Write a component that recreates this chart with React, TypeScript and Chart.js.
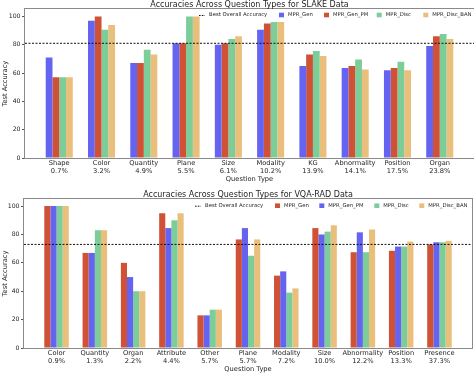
import React, { useEffect, useRef } from "react";
import { Chart, registerables } from "chart.js";
Chart.register(...registerables);

const SERIES = ["MPR_Gen", "MPR_Gen_PM", "MPR_Disc", "MPR_Disc_BAN"];

const slakeCategories = ["Shape", "Color", "Quantity", "Plane", "Size", "Modality", "KG", "Abnormality", "Position", "Organ"];
const slakeShares = ["0.7%", "3.2%", "4.9%", "5.5%", "6.1%", "10.2%", "13.9%", "14.1%", "17.5%", "23.8%"];
const slakeGen = [71, 97, 67, 81, 80, 90.5, 65, 63.5, 62, 79];
const slakeGenPM = [57, 100, 67, 81, 81, 95, 73, 65, 63.5, 86];
const slakeDisc = [57, 90.5, 76.5, 100, 84, 96, 75.5, 69.5, 68, 87.5];
const slakeDiscBAN = [57, 94, 73, 100, 86, 96, 72, 62.5, 62, 84];
const slakeBest = 81;

const vqaCategories = ["Color", "Quantity", "Organ", "Attribute", "Other", "Plane", "Modality", "Size", "Abnormality", "Position", "Presence"];
const vqaShares = ["0.9%", "1.3%", "2.2%", "4.4%", "5.7%", "5.7%", "7.2%", "10.0%", "12.2%", "13.3%", "37.3%"];
const vqaGen = [100, 67, 60, 95, 23, 76.5, 51, 84.5, 67.5, 68.5, 73];
const vqaGenPM = [100, 67, 50, 84.5, 23, 84.5, 54, 80, 81.5, 71.5, 74.5];
const vqaDisc = [100, 83, 40, 90, 27, 65, 39, 82, 67.5, 71.5, 74.5];
const vqaDiscBAN = [100, 83, 40, 95, 27, 76.5, 42, 86.5, 83.5, 75, 75.5];
const vqaBest = 73;

const yTicks = [0, 20, 40, 60, 80, 100];

const BLUE = "#6464f0";
const RED = "#cf5236";
const GREEN = "#7dcd98";
const TAN = "#eabf7c";

const FONT = "'DejaVu Sans', sans-serif";
const TEXT = "#1e1e1e";

type Props = {
  top: number;
  height: number;
  title: string;
  categories: string[];
  shares: string[];
  series: number[][];
  colors: string[];
  best: number;
  xMin: number;
  xMax: number;
  yWidth: number;
  padTop: number;
  padRight: number;
  xAxisHeight: number;
  xTitlePad: number;
  titleY: number;
  legendY: number;
  legendX: number[];
};

function GroupedChart(p: Props) {
  const ref = useRef<HTMLCanvasElement>(null);
  useEffect(() => {
    const canvas = ref.current!;
    const datasets: any[] = p.series.map((vals, si) => ({
      type: "bar",
      label: SERIES[si],
      data: vals.map((v, i) => ({ x: i, y: v })),
      backgroundColor: p.colors[si],
      borderWidth: 0,
      barPercentage: 1,
      categoryPercentage: 0.64,
      order: 1,
    }));
    datasets.push({
      type: "line",
      label: "Best Overall Accuracy",
      data: [
        { x: p.xMin, y: p.best },
        { x: p.xMax, y: p.best },
      ],
      borderColor: "#111",
      borderWidth: 1,
      borderDash: [2, 1.5],
      pointRadius: 0,
      fill: false,
      order: 0,
    });

    const deco = {
      id: "deco",
      afterDraw(chart: any) {
        const ctx = chart.ctx;
        const a = chart.chartArea;
        ctx.save();
        // frame
        ctx.strokeStyle = "#8a8a8a";
        ctx.lineWidth = 1;
        ctx.strokeRect(Math.round(a.left) - 0.5, Math.round(a.top) - 0.5, Math.round(a.right - a.left) + 1, Math.round(a.bottom - a.top) + 1);
        // title
        ctx.fillStyle = TEXT;
        ctx.font = `8px ${FONT}`;
        ctx.textAlign = "center";
        ctx.textBaseline = "middle";
        ctx.fillText(p.title, (a.left + a.right) / 2, p.titleY);
        // legend
        ctx.font = `5.3px ${FONT}`;
        ctx.textAlign = "left";
        const ly = p.legendY;
        const x0 = p.legendX[0];
        ctx.strokeStyle = "#111";
        ctx.setLineDash([1.6, 1.2]);
        ctx.beginPath();
        ctx.moveTo(x0, ly + 0.5);
        ctx.lineTo(x0 + 6, ly + 0.5);
        ctx.stroke();
        ctx.setLineDash([]);
        ctx.fillStyle = TEXT;
        ctx.fillText("Best Overall Accuracy", x0 + 10, ly);
        for (let i = 0; i < SERIES.length; i++) {
          const x = p.legendX[i + 1];
          ctx.fillStyle = p.colors[i];
          ctx.fillRect(x, ly - 2.3, 5, 4.6);
          ctx.fillStyle = TEXT;
          ctx.fillText(SERIES[i], x + 9, ly);
        }
        ctx.restore();
      },
    };

    const chart = new Chart(canvas, {
      type: "bar",
      data: { datasets },
      options: {
        animation: false,
        responsive: false,
        devicePixelRatio: 1,
        layout: { padding: { top: p.padTop, right: p.padRight, left: 0, bottom: 0 } },
        plugins: { legend: { display: false }, tooltip: { enabled: false }, title: { display: false } },
        scales: {
          x: {
            type: "linear",
            offset: false,
            min: p.xMin,
            max: p.xMax,
            afterBuildTicks: (s: any) => {
              s.ticks = p.categories.map((_, i) => ({ value: i }));
            },
            afterFit: (s: any) => {
              s.height = p.xAxisHeight;
            },
            grid: { display: false, drawTicks: false, tickLength: 0, offset: false },
            border: { display: false },
            ticks: {
              autoSkip: false,
              maxRotation: 0,
              minRotation: 0,
              padding: 1.5,
              color: TEXT,
              font: { family: FONT, size: 6.7, lineHeight: 1.15 },
              callback: (v: any) => {
                const i = Math.round(Number(v));
                return [p.categories[i], p.shares[i]];
              },
            },
            title: {
              display: true,
              text: "Question Type",
              color: TEXT,
              font: { family: FONT, size: 6.7, lineHeight: 1.15 },
              padding: { top: 0, bottom: p.xTitlePad },
            },
          } as any,
          y: {
            min: 0,
            max: 105,
            afterBuildTicks: (s: any) => {
              s.ticks = yTicks.map((v) => ({ value: v }));
            },
            afterFit: (s: any) => {
              s.width = p.yWidth;
            },
            grid: { display: true, drawOnChartArea: false, drawTicks: true, tickLength: 3, color: "#555" },
            border: { display: false },
            ticks: {
              padding: 1.5,
              color: TEXT,
              font: { family: FONT, size: 6.2 },
            },
            title: {
              display: true,
              text: "Test Accuracy",
              color: TEXT,
              font: { family: FONT, size: 6.7, lineHeight: 1.15 },
              padding: { top: 1, bottom: 0 },
            },
          } as any,
        },
      } as any,
      plugins: [deco],
    });
    return () => chart.destroy();
  }, []);
  return (
    <canvas
      ref={ref}
      width={474}
      height={p.height}
      style={{ display: "block", position: "absolute", left: 0, top: p.top, width: 474, height: p.height }}
    />
  );
}

export default function App() {
  return (
    <div style={{ position: "fixed", left: 0, top: 0, width: 474, height: 387, background: "#fff", overflow: "hidden" }}>
      <GroupedChart
        top={0}
        height={188}
        title="Accuracies Across Question Types for SLAKE Data"
        categories={slakeCategories}
        shares={slakeShares}
        series={[slakeGen, slakeGenPM, slakeDisc, slakeDiscBAN]}
        colors={[BLUE, RED, GREEN, TAN]}
        best={slakeBest}
        xMin={-0.81}
        xMax={9.81}
        yWidth={25}
        padTop={9.3}
        padRight={0}
        xAxisHeight={30}
        xTitlePad={5.2}
        titleY={5}
        legendY={15}
        legendX={[199, 279, 324, 376.7, 423.3]}
      />
      <GroupedChart
        top={188}
        height={199}
        title="Accuracies Across Question Types for VQA-RAD Data"
        categories={vqaCategories}
        shares={vqaShares}
        series={[vqaGen, vqaGenPM, vqaDisc, vqaDiscBAN]}
        colors={[RED, BLUE, GREEN, TAN]}
        best={vqaBest}
        xMin={-0.85}
        xMax={10.85}
        yWidth={24}
        padTop={11}
        padRight={2}
        xAxisHeight={39}
        xTitlePad={14}
        titleY={7}
        legendY={17.7}
        legendX={[195, 275, 319.3, 374.3, 419.3]}
      />
    </div>
  );
}
